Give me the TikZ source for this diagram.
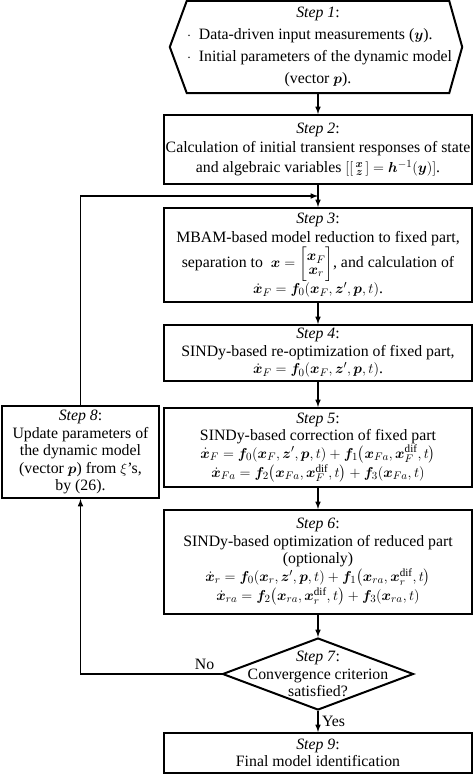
\documentclass[tikz,border=0pt]{standalone}
\usepackage{amsmath}
\usepackage{bm}
\usepackage{fontspec}
\setmainfont{Liberation Serif}
\usetikzlibrary{shapes.geometric,calc}
\begin{document}
\begin{tikzpicture}[x=1pt,y=-1pt,
        every node/.style={font=\fontsize{15.8}{17.5}\selectfont},
        stepbox/.style={draw,line width=2pt,text width=306pt,inner xsep=1pt,inner ysep=0pt,align=flush center},
        flow/.style={line width=1.5pt,-latex}]
        \useasboundingbox (0,0) rectangle (474,774);
        %% Step 1 (input)
        \node[text width=262pt,inner sep=0pt,minimum height=92pt,align=flush center] (s1) at (318,47)
            {\textit{Step 1}:\\[4.5pt]
             \makebox[262pt][l]{$\cdot$\ \ Data-driven input measurements ($\bm{y}$).}\\[4.5pt]
             \makebox[262pt][l]{$\cdot$\ \ Initial parameters of the dynamic model}\\[4.5pt]
             (vector $\bm{p}$).};
        \draw[line width=2pt] (s1.north west) -- (s1.north east) -- ([xshift=13pt]s1.east)
            -- (s1.south east) -- (s1.south west) -- ([xshift=-17pt]s1.west) -- cycle;
        %% Steps 2 to 6
        \node[stepbox,minimum height=69pt] (s2) at (318,149.5)
            {\textit{Step 2}:\\[2pt]
             Calculation of initial transient responses of state\\[2pt]
             and algebraic variables $[\left[\begin{smallmatrix}\bm{x}\\ \bm{z}\end{smallmatrix}\right] = \bm{h}^{-1}(\bm{y})]$.};
        \node[stepbox,minimum height=94pt] (s3) at (318,255)
            {\textit{Step 3}:\\[2pt]
             MBAM-based model reduction to fixed part,\\
             separation to\ \ $\bm{x} = \left[\begin{array}{@{}c@{}}\bm{x}_F\\[-4pt] \bm{x}_r\end{array}\right]$, and calculation of\\
             $\dot{\bm{x}}_F = \bm{f}_0(\bm{x}_F, \bm{z}', \bm{p}, t)$.};
        \node[stepbox,minimum height=56pt] (s4) at (318,353)
            {\textit{Step 4}:\\
             SINDy-based re-optimization of fixed part,\\
             $\dot{\bm{x}}_F = \bm{f}_0(\bm{x}_F, \bm{z}', \bm{p}, t)$.};
        \node[stepbox,minimum height=79pt] (s5) at (318,447.5)
            {\textit{Step 5}:\\
             SINDy-based correction of fixed part\\
             $\dot{\bm{x}}_F = \bm{f}_0(\bm{x}_F, \bm{z}', \bm{p}, t) + \bm{f}_1\bigl(\bm{x}_{Fa}, \bm{x}_F^{\mathrm{dif}}, t\bigr)$\\
             $\dot{\bm{x}}_{Fa} = \bm{f}_2\bigl(\bm{x}_{Fa}, \bm{x}_F^{\mathrm{dif}}, t\bigr) + \bm{f}_3(\bm{x}_{Fa}, t)$};
        \node[stepbox,minimum height=104pt] (s6) at (318,562)
            {\textit{Step 6}:\\
             SINDy-based optimization of reduced part\\
             (optionaly)\\
             $\dot{\bm{x}}_r = \bm{f}_0(\bm{x}_r, \bm{z}', \bm{p}, t) + \bm{f}_1\bigl(\bm{x}_{ra}, \bm{x}_r^{\mathrm{dif}}, t\bigr)$\\
             $\dot{\bm{x}}_{ra} = \bm{f}_2\bigl(\bm{x}_{ra}, \bm{x}_r^{\mathrm{dif}}, t\bigr) + \bm{f}_3(\bm{x}_{ra}, t)$};
        %% Step 7 (decision)
        \node[diamond,draw,line width=2pt,minimum width=191pt,minimum height=72pt,inner sep=0pt] (s7) at (318,674) {};
        \node[align=flush center,inner sep=0pt] (s7text) at (s7)
            {\textit{Step 7}:\\ Convergence criterion\\ satisfied?};
        %% Step 8 (update) and Step 9 (end)
        \node[draw,line width=2pt,text width=155pt,inner xsep=1pt,inner ysep=0pt,minimum height=92pt,align=flush center] (s8) at (80.5,452)
            {\textit{Step 8}:\\
             Update parameters of\\
             the dynamic model\\
             (vector $\bm{p}$) from $\xi$'s,\\
             by (26).};
        \node[stepbox,minimum height=40pt] (s9) at (318,753)
            {\textit{Step 9}:\\ Final model identification};
        %% Arrows
        \coordinate (join) at ($(s2.south)!0.5!(s3.north)$);
        \draw[flow] (s1.south) -- (s2.north);
        \draw[flow] (s2.south) -- (s3.north);
        \draw[flow] (s3.south) -- (s4.north);
        \draw[flow] (s4.south) -- (s5.north);
        \draw[flow] (s5.south) -- (s6.north);
        \draw[flow] (s6.south) -- (s7.north);
        \draw[flow] (s7.south) -- node[right] {Yes} (s9.north);
        \draw[flow] (s7.west) -| node[pos=0.06,above] {No} (s8.south);
        \draw[flow] (s8.north) |- (join);
    \end{tikzpicture}
\end{document}
